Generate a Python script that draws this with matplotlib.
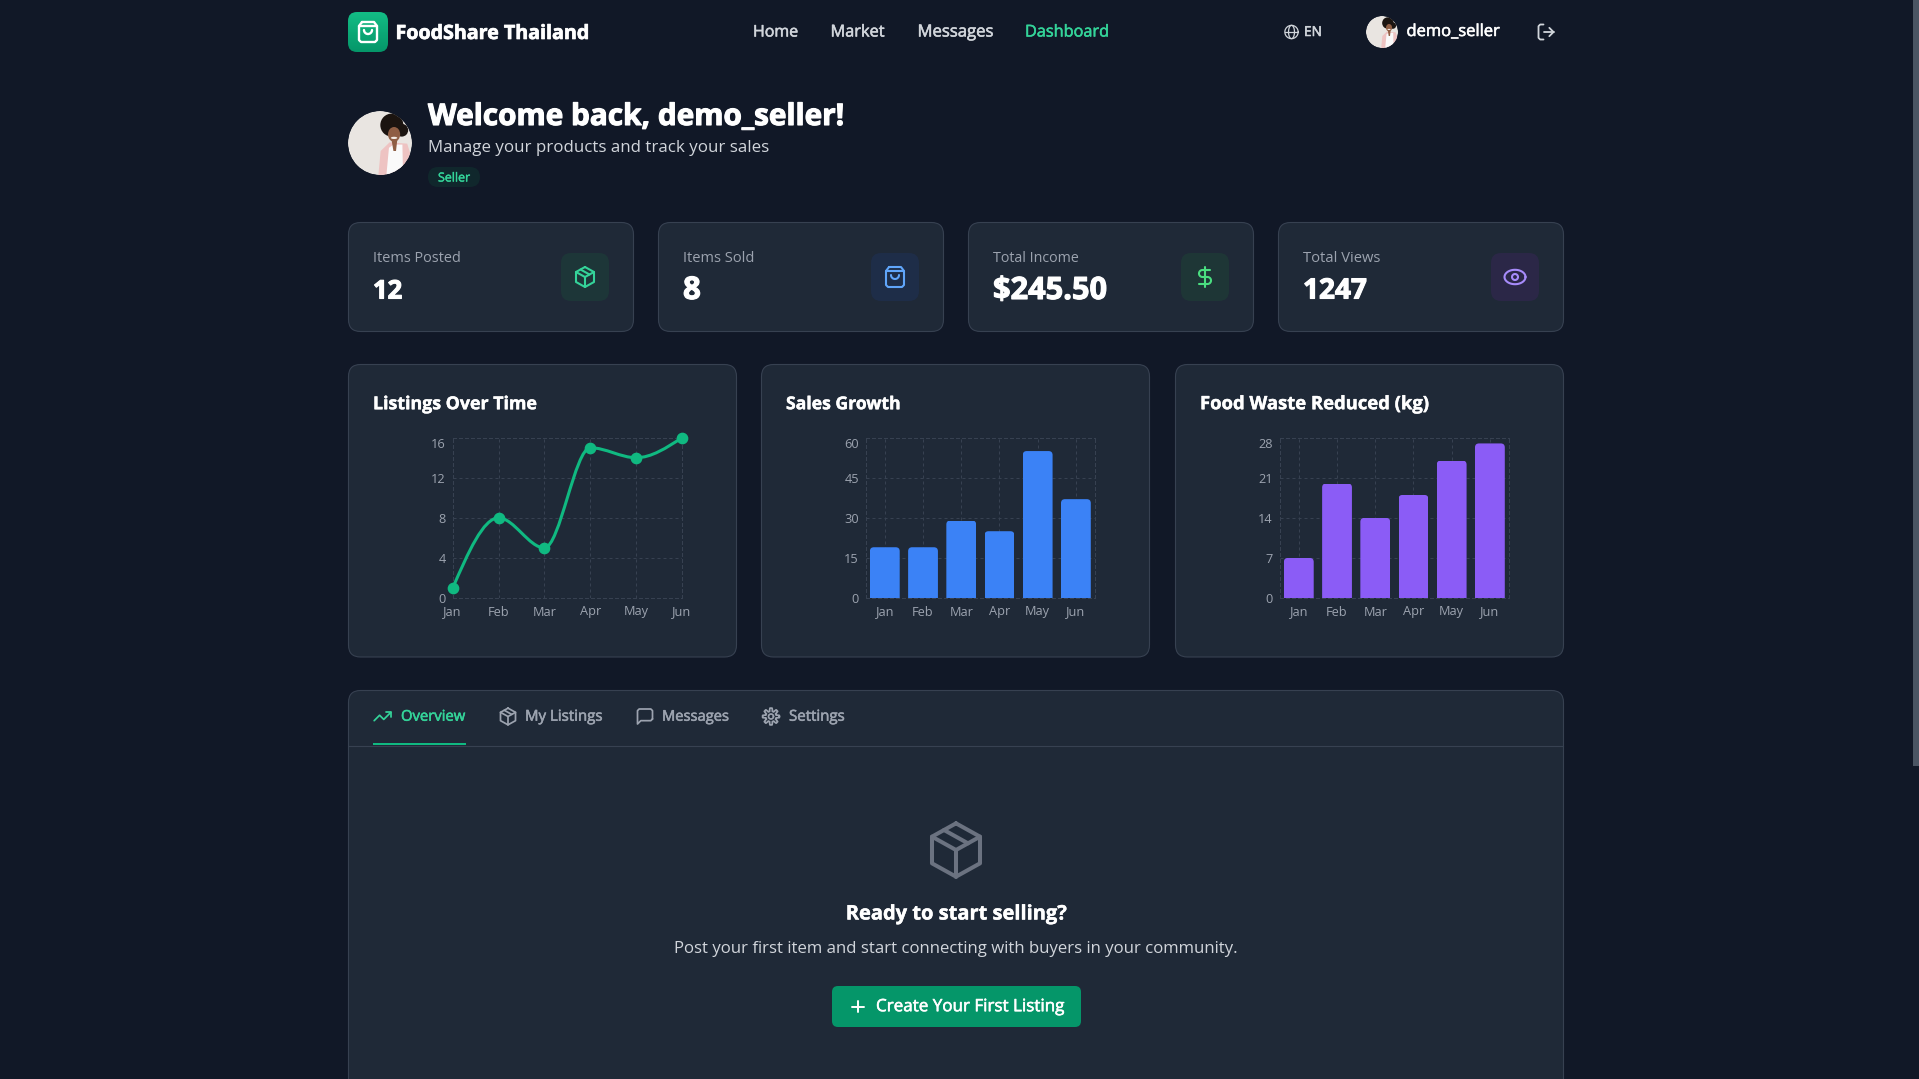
import numpy as np
import matplotlib
matplotlib.use("Agg")
import matplotlib.pyplot as plt
import matplotlib.patheffects as pe
from matplotlib.patches import FancyBboxPatch, Circle, PathPatch, Polygon, Ellipse
from matplotlib.path import Path

months = ["Jan", "Feb", "Mar", "Apr", "May", "Jun"]
listings = [1, 8, 5, 15, 14, 16]
sales = [19, 19, 29, 25, 55, 37]
waste = [7, 20, 14, 18, 24, 27]
listings_ticks = [0, 4, 8, 12, 16]
sales_ticks = [0, 15, 30, 45, 60]
waste_ticks = [0, 7, 14, 21, 28]

stat_labels = ["Items Posted", "Items Sold", "Total Income", "Total Views"]
stat_values = ["12", "8", "$245.50", "1247"]

W, H = 1919, 1079
BG = "#111827"
CARD = "#1f2937"
BORDER = "#374151"
MUTED = "#9ca3af"
GREEN = "#10b981"
MINT = "#34d399"
BLUE = "#3b82f6"
PURPLE = "#8b5cf6"
FONT = "Open Sans"

plt.rcParams["font.family"] = [FONT, "DejaVu Sans"]

fig = plt.figure(figsize=(W / 100, H / 100), dpi=100, facecolor=BG)
bg = fig.add_axes([0, 0, 1, 1], zorder=0)
bg.set_xlim(0, W)
bg.set_ylim(H, 0)
bg.axis("off")
renderer = fig.canvas.get_renderer()


def txt(x, y, s, width, color="white", weight="normal", ha="left", stroke=0):
    # scale the font so the string is as wide as in the screenshot
    t = bg.text(x, y, s, color=color, fontweight=weight, ha=ha, va="center", fontsize=10, zorder=6)
    w = t.get_window_extent(renderer).width
    t.set_fontsize(10 * width / w)
    if stroke:
        t.set_path_effects([pe.withStroke(linewidth=stroke, foreground=color)])
    return t


def box(x0, y0, x1, y1, r, face, edge="none", lw=0.8, alpha=None, z=1):
    p = FancyBboxPatch((x0 + r, y0 + r), x1 - x0 - 2 * r, y1 - y0 - 2 * r,
                       boxstyle="round,pad=%s,rounding_size=%s" % (r, r),
                       facecolor=face, edgecolor=edge, linewidth=lw, alpha=alpha, zorder=z)
    bg.add_patch(p)
    return p


def arc(cx, cy, rx, ry, a0, a1, n=24):
    a = np.radians(np.linspace(a0, a1, n))
    return list(zip(cx + rx * np.cos(a), cy + ry * np.sin(a)))


def icon(cx, cy, size, color, lw, shapes):
    # shapes are polylines on a 24x24 grid, like the svg icons
    k = size / 24.0
    for pts in shapes:
        pts = np.array(pts, dtype=float)
        bg.plot(cx + (pts[:, 0] - 12) * k, cy + (pts[:, 1] - 12) * k, color=color, lw=lw,
                solid_capstyle="round", solid_joinstyle="round", zorder=5)


PACKAGE = [[(12, 2), (21, 7), (21, 17), (12, 22), (3, 17), (3, 7), (12, 2)],
           [(3, 7), (12, 12), (21, 7)], [(12, 12), (12, 22)], [(7.5, 4.5), (16.5, 9.5)]]
BAG = [[(6, 2), (18, 2), (21, 6), (21, 20), (19, 22), (5, 22), (3, 20), (3, 6), (6, 2)],
       [(3, 6), (21, 6)], arc(12, 10, 4, 4, 0, 180)]
DOLLAR = [[(12, 2), (12, 22)],
          [(17, 5), (9.5, 5)] + arc(9.5, 8.5, 3.5, 3.5, 270, 90) + [(14.5, 12)]
          + arc(14.5, 15.5, 3.5, 3.5, -90, 90) + [(6, 19)]]
EYE = [arc(12, 12, 10.5, 7.2, 0, 360, 48), arc(12, 12, 3, 3, 0, 360)]
GLOBE = [arc(12, 12, 10, 10, 0, 360), arc(12, 12, 4.5, 10, 0, 360), [(2, 12), (22, 12)]]
LOGOUT = [[(9, 21), (5, 21), (3, 19), (3, 5), (5, 3), (9, 3)], [(16, 17), (21, 12), (16, 7)], [(21, 12), (9, 12)]]
TREND = [[(2, 17), (8.5, 10.5), (13.5, 15.5), (22, 7)], [(16, 7), (22, 7), (22, 13)]]
CHAT = [[(21, 15), (21, 5), (19, 3), (5, 3), (3, 5), (3, 21), (7, 17), (19, 17), (21, 15)]]
PLUS = [[(5, 12), (19, 12)], [(12, 5), (12, 19)]]
gear_a = np.radians(np.linspace(0, 360, 97))
gear_r = 8.2 + 1.9 * np.clip(2.2 * np.cos(8 * gear_a), -1, 1)
GEAR = [list(zip(12 + gear_r * np.cos(gear_a), 12 + gear_r * np.sin(gear_a))), arc(12, 12, 3, 3, 0, 360)]


def avatar(cx, cy, r):
    # rough stand-in for the profile photo
    clip = Circle((cx, cy), r, transform=bg.transData)
    shapes = [
        Circle((cx, cy), r, facecolor="#e9e5e1"),
        Polygon([(cx - 0.05 * r, cy + r), (cx + 0.02 * r, cy + 0.25 * r), (cx + 0.3 * r, cy - 0.02 * r),
                 (cx + 0.85 * r, cy + 0.02 * r), (cx + r, cy + 0.5 * r), (cx + r, cy + r)], facecolor="#eec3c2"),
        Polygon([(cx + 0.2 * r, cy + r), (cx + 0.28 * r, cy + 0.15 * r), (cx + 0.42 * r, cy + 0.05 * r),
                 (cx + 0.7 * r, cy + 0.05 * r), (cx + 0.72 * r, cy + r)], facecolor="#fafafa"),
        Circle((cx + 0.37 * r, cy - 0.56 * r), 0.36 * r, facecolor="#1b1410"),
        Circle((cx + 0.68 * r, cy - 0.4 * r), 0.2 * r, facecolor="#1b1410"),
        Ellipse((cx + 0.44 * r, cy - 0.27 * r), 0.38 * r, 0.46 * r, facecolor="#8f5e44"),
        Polygon([(cx + 0.36 * r, cy - 0.1 * r), (cx + 0.54 * r, cy - 0.1 * r), (cx + 0.5 * r, cy + 0.25 * r), (cx + 0.42 * r, cy + 0.25 * r)],
                facecolor="#8f5e44"),
        Ellipse((cx + 0.44 * r, cy - 0.16 * r), 0.2 * r, 0.07 * r, facecolor="#f4ece6"),
    ]
    for s in shapes:
        s.set_zorder(4)
        bg.add_patch(s)
        s.set_clip_path(clip)


def monotone_path(xs, ys):
    # same curve the web chart uses: cubic segments with monotone slopes
    xs = np.array(xs, dtype=float)
    ys = np.array(ys, dtype=float)
    s = np.diff(ys) / np.diff(xs)
    t = np.zeros(len(ys))
    for i in range(1, len(ys) - 1):
        if s[i - 1] * s[i] > 0:
            t[i] = np.sign(s[i]) * min(abs(s[i - 1]), abs(s[i]), 0.25 * abs(s[i - 1] + s[i]))
    t[0] = (3 * s[0] - t[1]) / 2
    t[-1] = (3 * s[-1] - t[-2]) / 2
    verts = [(xs[0], ys[0])]
    codes = [Path.MOVETO]
    for i in range(len(xs) - 1):
        h = (xs[i + 1] - xs[i]) / 3
        verts += [(xs[i] + h, ys[i] + h * t[i]), (xs[i + 1] - h, ys[i + 1] - h * t[i + 1]), (xs[i + 1], ys[i + 1])]
        codes += [Path.CURVE4] * 3
    return Path(verts, codes)


def chart_axes(x0, y0, x1, y1, ymax, yticks, xlim):
    ax = fig.add_axes([x0 / W, 1 - y1 / H, (x1 - x0) / W, (y1 - y0) / H], zorder=2)
    ax.patch.set_alpha(0)
    ax.set_xlim(*xlim)
    ax.set_ylim(0, ymax)
    ax.set_xticks(range(len(months)))
    ax.set_xticklabels(months)
    ax.set_yticks(yticks)
    ax.tick_params(length=0, labelsize=9.2, labelcolor=MUTED)
    ax.tick_params(axis="x", pad=5.4)
    ax.tick_params(axis="y", pad=5)
    ax.grid(True, color=BORDER, lw=0.72, linestyle=(0, (3, 3)))
    ax.set_axisbelow(True)
    for sp in ax.spines.values():
        sp.set_color(BORDER)
        sp.set_linewidth(0.72)
        sp.set_linestyle((0, (3, 3)))
    # the top tick label hangs below the top of the plot area
    ax.get_yticklabels()[-1].set_verticalalignment("top")
    return ax


def round_bars(ax, values, color):
    bars = ax.bar(range(len(values)), values, width=0.78, color=color, zorder=3)
    px_x = (ax.get_xlim()[1] - ax.get_xlim()[0]) / (ax.get_position().width * W)
    px_y = ax.get_ylim()[1] / (ax.get_position().height * H)
    rx, ry = 4 * px_x, 4 * px_y
    for b in bars:
        x0, x1, h = b.get_x(), b.get_x() + b.get_width(), b.get_height()
        clip = Path([(x0, 0), (x0, h - ry), (x0, h), (x0 + rx, h), (x1 - rx, h), (x1, h), (x1, h - ry), (x1, 0), (x0, 0)],
                    [Path.MOVETO, Path.LINETO, Path.CURVE3, Path.CURVE3, Path.LINETO, Path.CURVE3, Path.CURVE3, Path.LINETO, Path.CLOSEPOLY])
        b.set_clip_path(clip, ax.transData)


# scrollbar
bg.add_patch(plt.Rectangle((1913, 0), 6, 766, facecolor="#4b5563", zorder=1))

# top bar
logo = box(348, 12, 388, 52, 9, "none", z=2)
grad = np.linspace(0, 1, 64).reshape(-1, 1)
img = bg.imshow(grad, extent=(348, 388, 52, 12), aspect="auto", zorder=2,
                cmap=matplotlib.colors.LinearSegmentedColormap.from_list("g", ["#13bd85", "#059669"]))
img.set_clip_path(logo)
bg.set_xlim(0, W)
bg.set_ylim(H, 0)
icon(368, 32, 24, "white", 1.7, BAG)
txt(395.5, 34, "FoodShare Thailand", 194, weight="bold", stroke=0.5)
for x, s, w, c in [(753, "Home", 45, "#d1d5db"), (830.5, "Market", 54, "#d1d5db"),
                   (917.5, "Messages", 76, "#d1d5db"), (1025, "Dashboard", 84, MINT)]:
    txt(x, 32.5, s, w, color=c, stroke=0.4)
icon(1291.5, 32, 16, "#d1d5db", 0.9, GLOBE)
txt(1304, 32.5, "EN", 18, color="#d1d5db", stroke=0.4)
avatar(1382, 32, 16)
txt(1406.5, 32, "demo_seller", 93, stroke=0.4)
icon(1546, 32, 20, "#d1d5db", 1.3, LOGOUT)

# welcome header
avatar(380, 143, 32)
txt(428, 117, "Welcome back, demo_seller!", 417, weight="bold", stroke=0.8)
txt(428, 147.5, "Manage your products and track your sales", 340, color="#d1d5db")
box(428, 167, 480, 187, 10, "#10272c")
txt(438, 178, "Seller", 32, color=MINT, stroke=0.3)

# stat cards
card_x = [348, 658, 968, 1278]
label_w = [88, 71, 86, 77]
value_w = [29, 18, 114, 64]
icon_box = ["#1d3638", "#1e2d48", "#1e3636", "#2b2747"]
icon_col = [MINT, "#60a5fa", "#4ade80", "#a78bfa"]
icon_shape = [PACKAGE, BAG, DOLLAR, EYE]
for i in range(4):
    x = card_x[i]
    box(x + 0.5, 222.5, x + 285.5, 331.5, 12, CARD, BORDER)
    txt(x + 25, 258, stat_labels[i], label_w[i], color=MUTED)
    txt(x + 25, 291, stat_values[i], value_w[i], weight="bold", stroke=0.8)
    box(x + 213, 253, x + 261, 301, 10, icon_box[i], z=2)
    icon(x + 237, 277, 24, icon_col[i], 1.5, icon_shape[i])

# chart cards
chart_x = [348, 761, 1175]
chart_titles = ["Listings Over Time", "Sales Growth", "Food Waste Reduced (kg)"]
title_w = [164, 115, 229]
for i in range(3):
    x = chart_x[i]
    box(x + 0.5, 364.5, x + 388.5, 657, 12, CARD, BORDER)
    txt(x + 25, 404.2, chart_titles[i], title_w[i], weight="bold", stroke=0.3)

ax1 = chart_axes(452.7, 437.7, 682, 598, 16, listings_ticks, (0, 5))
ax1.add_patch(PathPatch(monotone_path(range(len(listings)), listings), facecolor="none",
                        edgecolor=GREEN, lw=2.2, clip_on=False, zorder=3))
ax1.plot(range(len(listings)), listings, "o", color=GREEN, ms=7.4, clip_on=False, zorder=4)

ax2 = chart_axes(865.7, 437.7, 1095, 598, 60, sales_ticks, (-0.5, 5.5))
round_bars(ax2, sales, BLUE)

ax3 = chart_axes(1279.7, 437.7, 1509, 598, 28, waste_ticks, (-0.5, 5.5))
round_bars(ax3, waste, PURPLE)

# tabs panel, runs off the bottom of the page
box(348.5, 690.5, 1563.5, 1200, 12, CARD, BORDER)
bg.plot([349, 1563], [745.7, 745.7], color=BORDER, lw=0.8, zorder=2)
bg.add_patch(plt.Rectangle((373, 743), 93, 2.4, facecolor=GREEN, zorder=3))
tabs = [(382.5, TREND, 401, "Overview", 64, MINT), (508, PACKAGE, 525, "My Listings", 78, MUTED),
        (645, CHAT, 662, "Messages", 67, MUTED), (771, GEAR, 789, "Settings", 56, MUTED)]
for ix, shape, tx, s, w, c in tabs:
    icon(ix, 716.5, 20, c, 1.25, shape)
    txt(tx, 717.2, s, w, color=c, stroke=0.4)

icon(956, 850, 64, "#6b7280", 2.9, PACKAGE)
txt(956, 914.5, "Ready to start selling?", 222, weight="bold", ha="center", stroke=0.3)
txt(956, 948.7, "Post your first item and start connecting with buyers in your community.", 566,
    color="#d1d5db", ha="center")
box(832, 986, 1081, 1027, 6, "#059669", z=2)
icon(858, 1006.5, 20, "white", 1.4, PLUS)
txt(876, 1007.2, "Create Your First Listing", 189, stroke=0.4)

fig.savefig("out.png", dpi=100, facecolor=BG)
